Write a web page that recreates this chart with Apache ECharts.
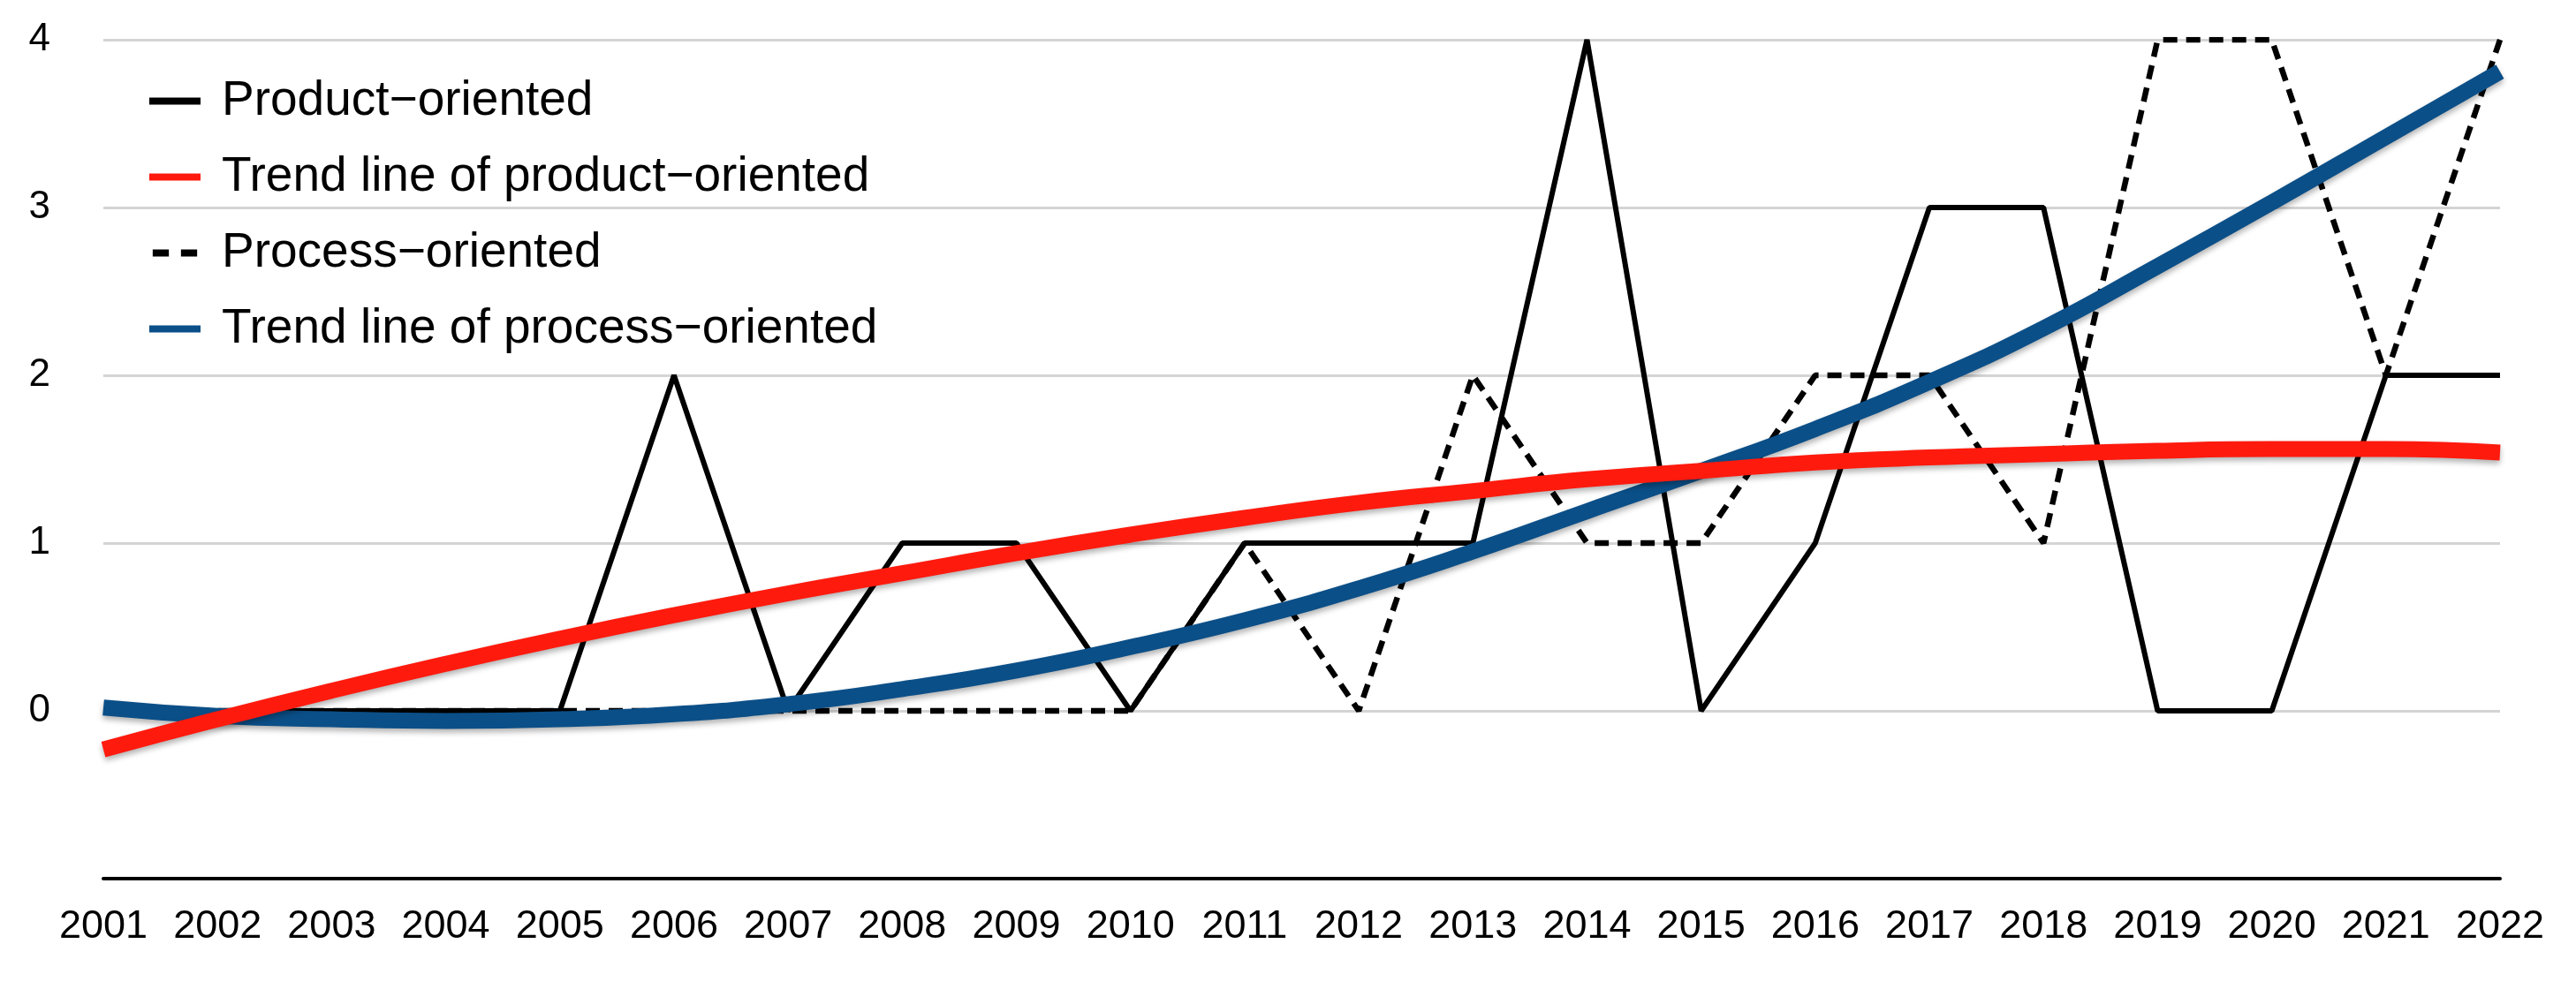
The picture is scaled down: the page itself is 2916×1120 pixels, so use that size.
<!DOCTYPE html>
<html>
<head>
<meta charset="utf-8">
<script src="https://cdn.jsdelivr.net/npm/echarts@6/dist/echarts.min.js"></script>
<style>
  html, body { margin: 0; padding: 0; background: #fff; }
  #main { width: 2916px; height: 1120px; }
</style>
</head>
<body>
<div id="main"></div>
<script>
var years = ['2001','2002','2003','2004','2005','2006','2007','2008','2009','2010','2011',
             '2012','2013','2014','2015','2016','2017','2018','2019','2020','2021','2022'];

var productData = [0, 0, 0, 0, 0, 2, 0, 1, 1, 0, 1, 1, 1, 4, 0, 1, 3, 3, 0, 0, 2, 2];
var processData = [0, 0, 0, 0, 0, 0, 0, 0, 0, 0, 1, 0, 2, 1, 1, 2, 2, 1, 4, 4, 2, 4];

// trend lines
var productTrend = [-0.23, -0.05, 0.12, 0.28, 0.43, 0.57, 0.70, 0.82, 0.94, 1.05, 1.15,
                    1.24, 1.31, 1.38, 1.43, 1.48, 1.51, 1.53, 1.55, 1.56, 1.56, 1.54];
var processTrend = [0.02, -0.03, -0.05, -0.06, -0.05, -0.02, 0.04, 0.13, 0.24, 0.38, 0.54,
                    0.73, 0.95, 1.19, 1.43, 1.68, 1.96, 2.28, 2.65, 3.03, 3.42, 3.81];

var yTicks = ['0', '1', '2', '3', '4'];

var myChart = echarts.init(document.getElementById('main'));

var trendShadow = {
  shadowColor: 'rgba(0,0,0,0.3)',
  shadowBlur: 6,
  shadowOffsetY: 4
};

var dashIcon = 'path://M0,0 H16 V7 H0 Z M28,0 H44 V7 H28 Z';

var option = {
  animation: false,
  backgroundColor: '#fff',
  textStyle: { fontFamily: 'Liberation Sans, Arial, sans-serif', color: '#000' },
  grid: { left: 117, right: 86, top: 45, bottom: 125 },
  legend: {
    orient: 'vertical',
    left: 164,
    top: 82,
    itemWidth: 58,
    itemHeight: 8,
    itemGap: 31,
    textStyle: { fontSize: 55, color: '#000', padding: [0, 0, 0, 19] },
    data: [
      { name: 'Product\u2212oriented', icon: 'rect' },
      { name: 'Trend line of product\u2212oriented', icon: 'rect' },
      { name: 'Process\u2212oriented', icon: dashIcon },
      { name: 'Trend line of process\u2212oriented', icon: 'rect' }
    ]
  },
  xAxis: {
    type: 'category',
    data: years,
    boundaryGap: false,
    axisLine: { show: true, onZero: false, lineStyle: { color: '#000', width: 4 } },
    axisTick: { show: false },
    axisLabel: { fontSize: 45, color: '#000', margin: 32, interval: 0 },
    splitLine: { show: false }
  },
  yAxis: {
    type: 'value',
    min: -1,
    max: 4,
    interval: 1,
    axisLine: { show: false },
    axisTick: { show: false },
    axisLabel: {
      fontSize: 44, color: '#000', margin: 60,
      formatter: function (v) { return yTicks.indexOf(String(v)) >= 0 ? String(v) : ''; }
    },
    splitLine: { lineStyle: { color: '#d4d4d4', width: 3 } }
  },
  series: [
    {
      name: 'Product\u2212oriented',
      type: 'line',
      data: productData,
      symbol: 'none',
      z: 2,
      lineStyle: { color: '#000', width: 6 },
      itemStyle: { color: '#000' }
    },
    {
      name: 'Process\u2212oriented',
      type: 'line',
      data: processData,
      symbol: 'none',
      z: 2,
      lineStyle: { color: '#000', width: 6.5, type: [16, 10] },
      itemStyle: { color: '#000' }
    },
    {
      name: 'Trend line of process\u2212oriented',
      type: 'line',
      data: processTrend,
      symbol: 'none',
      smooth: true,
      z: 3,
      lineStyle: Object.assign({ color: '#0b4f88', width: 18 }, trendShadow),
      itemStyle: { color: '#0b4f88' }
    },
    {
      name: 'Trend line of product\u2212oriented',
      type: 'line',
      data: productTrend,
      symbol: 'none',
      smooth: true,
      z: 4,
      lineStyle: Object.assign({ color: '#ff1a0e', width: 18 }, trendShadow),
      itemStyle: { color: '#ff1a0e' }
    }
  ]
};

myChart.setOption(option);
</script>
</body>
</html>
